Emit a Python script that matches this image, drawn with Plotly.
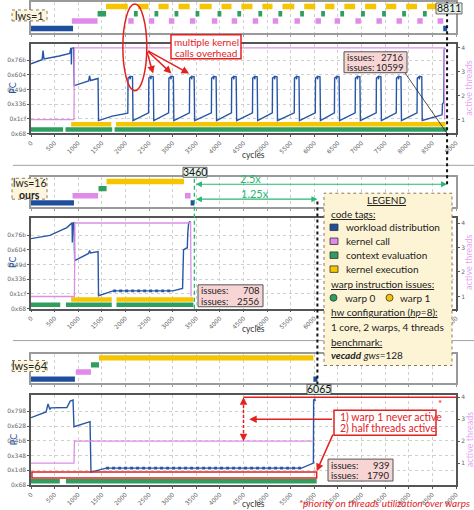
import plotly.graph_objects as go

# ---------------- values ----------------
# code tags, one start/end list per tag (cycles)
# lws=1
wd1_start = [0, 8730]
wd1_end = [890, 8811]
kc1_start = [865, 2060, 2495, 2920, 3365, 3830, 4250, 4695, 5120, 5580, 6025, 6430, 6870, 7315, 7740, 8180, 8610]
kc1_end = [1410, 2175, 2610, 3035, 3480, 3945, 4365, 4810, 5235, 5695, 6140, 6545, 6985, 7430, 7855, 8295, 8730]
ce1_start = [1410, 2180, 2615, 3040, 3485, 3950, 4370, 4815, 5240, 5700, 6145, 6550, 6990, 7435, 7860, 8300]
ce1_end = [1590, 2260, 2695, 3120, 3565, 4030, 4450, 4895, 5320, 5780, 6225, 6630, 7070, 7515, 7940, 8380]
ke1_start = [1590, 2265, 2700, 3125, 3570, 4035, 4455, 4900, 5325, 5785, 6230, 6635, 7075, 7520, 7945, 8385]
ke1_end = [2050, 2490, 2915, 3360, 3825, 4245, 4690, 5115, 5575, 6020, 6425, 6865, 7310, 7735, 8175, 8605]
# lws=16
wd2_start, wd2_end = [0, 3380], [910, 3460]
kc2_start, kc2_end = [880, 3260], [1420, 3380]
ce2_start, ce2_end = [1430], [1600]
ke2_start, ke2_end = [1600], [3240]
# lws=64
wd3_start, wd3_end = [0, 5980], [930, 6065]
kc3_start, kc3_end = [950], [1270]
ce3_start, ce3_end = [1270], [1440]
ke3_start, ke3_end = [1440], [5980]

# warp instruction issues (cycles where the warp issues)
w0_1_start, w0_1_end = [0, 730, 1770], [680, 1720, 8811]
w1_1_start, w1_1_end = [850, 1800], [1700, 8780]
w0_2_start, w0_2_end = [0, 740, 1810], [620, 1710, 3440]
w1_2_start, w1_2_end = [850, 1810], [1710, 3440]
w0_3_start, w0_3_end = [0, 740], [610, 6050]

# program counter traces
pc1_cyc = [0, 220, 235, 255, 275, 600, 820, 840, 852, 855, 860, 905, 915, 1220, 1240, 1260, 1420, 1430, 1720, 2050,
           2055, 2090, 2100, 2105, 2150, 2160, 2490,
           2495, 2530, 2540, 2545, 2590, 2600, 2915,
           2920, 2955, 2965, 2970, 3015, 3025, 3355,
           3360, 3395, 3405, 3410, 3455, 3465, 3820,
           3825, 3860, 3870, 3875, 3920, 3930, 4245,
           4250, 4285, 4295, 4300, 4345, 4355, 4690,
           4695, 4730, 4740, 4745, 4790, 4800, 5110,
           5115, 5150, 5160, 5165, 5210, 5220, 5575,
           5580, 5615, 5625, 5630, 5675, 5685, 6020,
           6025, 6060, 6070, 6075, 6120, 6130, 6425,
           6430, 6465, 6475, 6480, 6525, 6535, 6865,
           6870, 6905, 6915, 6920, 6965, 6975, 7310,
           7315, 7350, 7360, 7365, 7410, 7420, 7735,
           7740, 7775, 7785, 7790, 7835, 7845, 8175,
           8180, 8215, 8225, 8230, 8275, 8285, 8705,
           8715, 8740, 8750, 8770]
pc1_val = [1810, 1900, 1910, 2130, 1930, 2000, 2060, 2180, 2170, 1790, 2190, 2200, 1275, 1390, 1520, 1400, 1450, 420, 530, 600,
           1460, 1490, 1430, 1500, 1490, 420, 610,
           1460, 1490, 1430, 1500, 1490, 420, 610,
           1460, 1490, 1430, 1500, 1490, 420, 610,
           1460, 1490, 1430, 1500, 1490, 420, 610,
           1460, 1490, 1430, 1500, 1490, 420, 610,
           1460, 1490, 1430, 1500, 1490, 420, 610,
           1460, 1490, 1430, 1500, 1490, 420, 610,
           1460, 1490, 1430, 1500, 1490, 420, 610,
           1460, 1490, 1430, 1500, 1490, 420, 610,
           1460, 1490, 1430, 1500, 1490, 420, 610,
           1460, 1490, 1430, 1500, 1490, 420, 610,
           1460, 1490, 1430, 1500, 1490, 420, 610,
           1460, 1490, 1430, 1500, 1490, 420, 610,
           1460, 1490, 1430, 1500, 1490, 420, 610,
           1460, 1490, 1430, 1500, 1490, 420, 560,
           830, 860, 2150, 2200]
pc2_cyc = [0, 400, 760, 840, 870, 875, 885, 910, 925, 1220, 1240, 1260, 1420, 1430, 1740, 3000, 3210, 3230, 3310, 3320, 3340, 3380]
pc2_val = [1810, 1890, 2080, 2180, 2195, 1720, 2190, 2200, 1275, 1450, 1520, 1460, 1495, 420, 540, 540, 600, 1540, 1590, 1950, 2200, 2230]
pc2_busy_cyc, pc2_busy_val = [1740, 3000], [540, 540]
pc3_cyc = [0, 320, 360, 400, 420, 760, 830, 890, 910, 1250, 1270, 1590, 5730, 5980, 5985, 6010, 6020]
pc3_val = [1784, 1930, 2130, 1990, 2030, 2040, 2200, 2225, 1560, 1685, 425, 525, 525, 650, 2230, 2250, 2200]
pc3_busy_cyc, pc3_busy_val = [1590, 5730], [525, 525]

# active threads
thr1_cyc, thr1_val = [0, 910, 920, 8750, 8760], [1, 1, 4, 4, 1]
thr2_cyc, thr2_val = [0, 920, 930, 3380, 3390], [1, 1, 4, 4, 1]
thr3_cyc, thr3_val = [0, 910, 920, 5980], [1, 1, 2, 2]

# tick labels
pc_ticks_a = [0x68, 0x1cf, 0x336, 0x49d, 0x604, 0x76b]
pc_text_a = ["0x68", "0x1cf", "0x336", "0x49d", "0x604", "0x76b"]
pc_ticks_b = [0x68, 0x1d8, 0x348, 0x4b8, 0x628, 0x798]
pc_text_b = ["0x68", "0x1d8", "0x348", "0x4b8", "0x628", "0x798"]
thr_ticks = [1, 2, 3, 4]

end_cycles = [8811, 3460, 6065]
issues = [(2716, 10599), (708, 2556), (939, 1790)]

# ---------------- styling ----------------
BLUE = "#1f4e9e"
PINK = "#e08aea"
GREEN = "#2f9e5f"
YELLOW = "#f6c500"
PCBLUE = "#2856a6"
THR = "#dc8ee8"
RED = "#e3211f"
MINT = "#2bb673"
FONT = "Lato"

W, H = 474, 510
ML, MR, MB = 31, 18, 25
PW, PH = W - ML - MR, H - MB


def fx(px):
    return (px - ML) / PW


def fy(py):
    return (PH - py) / PH


def spans(starts, ends):
    xs = []
    for a, b in zip(starts, ends):
        xs += [a, b, None]
    return xs


fig = go.Figure()


def add_tags(xa, ya, rows):
    for starts, ends, color, lane in rows:
        fig.add_trace(go.Bar(
            x=[b - a for a, b in zip(starts, ends)], base=starts, y=[lane] * len(starts),
            orientation="h", width=0.75, marker=dict(color=color, line_width=0),
            xaxis=xa, yaxis=ya, showlegend=False, hoverinfo="skip"))


add_tags("x", "y", [(wd1_start, wd1_end, BLUE, 0), (kc1_start, kc1_end, PINK, 1),
                    (ce1_start, ce1_end, GREEN, 2), (ke1_start, ke1_end, YELLOW, 3)])
add_tags("x3", "y3", [(wd2_start, wd2_end, BLUE, 0), (kc2_start, kc2_end, PINK, 1),
                      (ce2_start, ce2_end, GREEN, 2), (ke2_start, ke2_end, YELLOW, 3)])
add_tags("x5", "y5", [(wd3_start, wd3_end, BLUE, 0), (kc3_start, kc3_end, PINK, 1),
                      (ce3_start, ce3_end, GREEN, 2), (ke3_start, ke3_end, YELLOW, 3)])

# issue lanes sit just above the bottom of each PC panel
LANE_W0, LANE_W1 = 200, 330


def add_issues(xa, ya, s0, e0, s1, e1):
    for s, e, lane, col in ((s0, e0, LANE_W0, GREEN), (s1, e1, LANE_W1, YELLOW)):
        if not s:
            continue
        xs = spans(s, e)
        fig.add_trace(go.Scatter(x=xs, y=[lane if v is not None else None for v in xs],
                                 mode="lines", line=dict(color=col, width=4.5), xaxis=xa, yaxis=ya,
                                 showlegend=False, hoverinfo="skip"))


add_issues("x2", "y2", w0_1_start, w0_1_end, w1_1_start, w1_1_end)
add_issues("x4", "y4", w0_2_start, w0_2_end, w1_2_start, w1_2_end)
add_issues("x6", "y6", w0_3_start, w0_3_end, [], [])


def add_pc(xa, ya, cyc, val, busy=None):
    fig.add_trace(go.Scatter(x=cyc, y=val, mode="lines", line=dict(color=PCBLUE, width=1.4),
                             xaxis=xa, yaxis=ya, showlegend=False, hoverinfo="skip"))
    if busy:
        fig.add_trace(go.Scatter(x=busy[0], y=busy[1], mode="lines",
                                 line=dict(color=PCBLUE, width=2.6, dash="dot"),
                                 xaxis=xa, yaxis=ya, showlegend=False, hoverinfo="skip"))


add_pc("x2", "y2", pc1_cyc, pc1_val)
add_pc("x4", "y4", pc2_cyc, pc2_val, (pc2_busy_cyc, pc2_busy_val))
add_pc("x6", "y6", pc3_cyc, pc3_val, (pc3_busy_cyc, pc3_busy_val))

for xa, ya, cyc, val in [("x2", "y7", thr1_cyc, thr1_val), ("x4", "y8", thr2_cyc, thr2_val),
                         ("x6", "y9", thr3_cyc, thr3_val)]:
    fig.add_trace(go.Scatter(x=cyc, y=val, mode="lines", line=dict(color=THR, width=1.3),
                             xaxis=xa, yaxis=ya, showlegend=False, hoverinfo="skip"))

# ---------------- axes ----------------
tickfont = dict(family="DejaVu Sans", size=6, color="#666")
xbase = dict(range=[0, 9000], tick0=0, dtick=500, showgrid=True, gridcolor="#cfcfcf", griddash="dot",
             zeroline=False, ticks="outside", ticklen=2, showline=True, mirror=True)
tag_x = dict(xbase, showticklabels=False, linecolor="#9a9a9a", linewidth=2, tickcolor="#9a9a9a")
pc_x = dict(xbase, tickangle=-45, tickfont=tickfont, linecolor="#555", linewidth=1.5, tickcolor="#555")
tag_y = dict(range=[-0.6, 3.6], showticklabels=False, showgrid=False, zeroline=False,
             showline=True, mirror=True, linecolor="#9a9a9a", linewidth=2)
pc_y = dict(showgrid=True, gridcolor="#cfcfcf", griddash="dot", zeroline=False, tickfont=tickfont,
            ticks="outside", ticklen=2, tickcolor="#555", showline=True, mirror=True,
            linecolor="#555", linewidth=1.5)
thr_y = dict(side="right", tickvals=thr_ticks, tickfont=tickfont, ticks="outside", ticklen=3,
             tickcolor="#555", showgrid=False, zeroline=False, showline=False)

rows_px = [(0, 31), (42, 132), (176, 206), (217, 308), (353, 383), (395, 485)]
dom = [[fy(b), fy(t)] for t, b in rows_px]

layout = dict(
    width=W, height=H, margin=dict(l=ML, r=MR, t=0, b=MB),
    paper_bgcolor="white", plot_bgcolor="white", barmode="overlay",
    xaxis=dict(tag_x, anchor="y"), yaxis=dict(tag_y, domain=dom[0], anchor="x"),
    xaxis2=dict(pc_x, anchor="y2"),
    yaxis2=dict(pc_y, domain=dom[1], anchor="x2", range=[104, 2298], tickvals=pc_ticks_a, ticktext=pc_text_a),
    xaxis3=dict(tag_x, anchor="y3"), yaxis3=dict(tag_y, domain=dom[2], anchor="x3"),
    xaxis4=dict(pc_x, anchor="y4"),
    yaxis4=dict(pc_y, domain=dom[3], anchor="x4", range=[104, 2311], tickvals=pc_ticks_a, ticktext=pc_text_a),
    xaxis5=dict(tag_x, anchor="y5"), yaxis5=dict(tag_y, domain=dom[4], anchor="x5"),
    xaxis6=dict(pc_x, anchor="y6"),
    yaxis6=dict(pc_y, domain=dom[5], anchor="x6", range=[104, 2342], tickvals=pc_ticks_b, ticktext=pc_text_b),
    yaxis7=dict(thr_y, overlaying="y2", anchor="x2", range=[0.42, 4.17]),
    yaxis8=dict(thr_y, overlaying="y4", anchor="x4", range=[0.5, 4.2]),
    yaxis9=dict(thr_y, overlaying="y6", anchor="x6", range=[0.0, 4.09]),
)

shapes = []
ann = []


def rect(x0, y0, x1, y1, fill, line, width=1.0, dash="solid"):
    shapes.append(dict(type="rect", xref="paper", yref="paper", x0=fx(x0), x1=fx(x1), y0=fy(y1), y1=fy(y0),
                       fillcolor=fill, line=dict(color=line, width=width, dash=dash), layer="above"))


def circ(x0, y0, x1, y1, fill):
    shapes.append(dict(type="circle", xref="paper", yref="paper", x0=fx(x0), x1=fx(x1), y0=fy(y1), y1=fy(y0),
                       fillcolor=fill, line=dict(color="#333", width=0.8), layer="above"))


def text(px, py, s, size=10, color="#222", xanchor="left", **kw):
    ann.append(dict(x=fx(px), y=fy(py), xref="paper", yref="paper", text=s, showarrow=False,
                    xanchor=xanchor, yanchor="middle", font=dict(family=FONT, size=size, color=color), **kw))


# section separators
for yy in (164, 340):
    shapes.append(dict(type="line", xref="paper", yref="paper", x0=fx(13), x1=fx(474), y0=fy(yy), y1=fy(yy),
                       line=dict(color="#a0a0a0", width=1), layer="below"))

# end-of-run markers
shapes.append(dict(type="line", xref="x2", yref="paper", x0=end_cycles[0], x1=end_cycles[0], y0=fy(183), y1=1,
                   line=dict(color="#111", width=2, dash="3px,3px"), layer="above"))
shapes.append(dict(type="line", xref="x4", yref="paper", x0=end_cycles[1], x1=end_cycles[1], y0=fy(308), y1=fy(176),
                   line=dict(color=MINT, width=1.3, dash="4px,3px"), layer="above"))
shapes.append(dict(type="line", xref="x6", yref="paper", x0=end_cycles[2], x1=end_cycles[2], y0=fy(384), y1=fy(198),
                   line=dict(color="#111", width=2, dash="3px,3px"), layer="above"))
# issues link line (run 1)
shapes.append(dict(type="line", xref="x2", yref="y2", x0=7900, x1=end_cycles[0], y0=1620, y1=104,
                   line=dict(color="#222", width=0.8), layer="above"))

# speed-up arrows
for tip, py, lab, lx in [(end_cycles[0], 183, "2.5x", 4650), (end_cycles[2], 198, "1.25x", 4750)]:
    ann.append(dict(x=tip, y=fy(py), xref="x4", yref="paper", ax=end_cycles[1], ay=0, axref="x4", ayref="pixel",
                    text="", showarrow=True, arrowside="end+start", arrowhead=2, startarrowhead=2,
                    arrowsize=1, startarrowsize=1, arrowwidth=1.2, arrowcolor=MINT, standoff=0, startstandoff=0))
    ann.append(dict(x=lx, y=fy(py - 6), xref="x4", yref="paper", text=lab, showarrow=False,
                    font=dict(family=FONT, size=11, color=MINT)))

# red highlights, run 1
shapes.append(dict(type="circle", xref="x2", yref="paper", x0=1945, x1=2452, y0=fy(89), y1=fy(2),
                   line=dict(color=RED, width=1.5), layer="above"))
for tip in (2586, 2974, 3347):
    ann.append(dict(x=tip, y=1572, xref="x2", yref="y2", ax=2446, ay=2144, axref="x2", ayref="y2",
                    text="", showarrow=True, arrowhead=2, arrowsize=1, arrowwidth=1.5, arrowcolor=RED))
rect(171, 33, 241, 57, "white", RED, 1.5)
text(206, 40, "multiple kernel", 10, RED, "center")
text(206, 51, "calls overhead", 10, RED, "center")

# red highlights, run 3
shapes.append(dict(type="line", xref="x6", yref="y9", x0=4500, x1=9000, y0=4, y1=4,
                   line=dict(color=RED, width=1.5), layer="above"))
shapes.append(dict(type="line", xref="x6", yref="y9", x0=4500, x1=4500, y0=2.15, y1=3.85,
                   line=dict(color=RED, width=1.5, dash="3px,2px"), layer="above"))
shapes.append(dict(type="rect", xref="x6", yref="y6", x0=20, x1=6050, y0=278, y1=427,
                   line=dict(color=RED, width=1.5), layer="above"))
for tip, tail in ((4, 3.7), (2, 2.3)):
    ann.append(dict(x=4500, y=tip, xref="x6", yref="y9", ax=4500, ay=tail, axref="x6", ayref="y9",
                    text="", showarrow=True, arrowhead=2, arrowsize=1, arrowwidth=1.5, arrowcolor=RED))
ann.append(dict(x=4620, y=3, xref="x6", yref="y9", ax=6406, ay=3, axref="x6", ayref="y9",
                text="", showarrow=True, arrowhead=2, arrowsize=1, arrowwidth=1.5, arrowcolor=RED))
ann.append(dict(x=6050, y=450, xref="x6", yref="y6", ax=6406, ay=1400, axref="x6", ayref="y6",
                text="", showarrow=True, arrowhead=2, arrowsize=1, arrowwidth=1.5, arrowcolor=RED))
rect(334, 410, 436, 435, "white", RED, 1.5)
text(338, 416.5, "1) warp 1 never active", 10.5, RED)
text(338, 428, "2) half threads active", 10.5, RED)
text(440, 403, "*", 10, RED, "center")
text(472, 503, "<i>*priority on threads utilization over warps</i>", 10, RED, "right")

# issue count boxes
for (x0, y0, x1, y1), (a, b) in zip([(344, 50, 407, 71), (198, 284, 263, 306), (328, 459, 393, 481)], issues):
    rect(x0, y0, x1, y1, "#f7d5d5", "#555", 1)
    ym = (y0 + y1) / 2
    text(x0 + 1, ym - 5, "issues:", 9.5, "#222")
    text(x0 + 1, ym + 5.5, "issues:", 9.5, "#222")
    text(x1 - 1, ym - 5, str(a), 9.5, "#222", "right")
    text(x1 - 1, ym + 5.5, str(b), 9.5, "#222", "right")

# run labels
for (y0, y1) in [(8, 19), (177, 198), (360, 371)]:
    rect(12, y0, 47, y1, "#fdf5dc", "#8a7a5a", 1, "dot")
text(29.5, 13.5, "lws=1", 11, "#222", "center")
text(29.5, 181.5, "lws=16", 10.5, "#222", "center")
text(29.5, 193.5, "<b>ours</b>", 10.5, "#222", "center")
text(29.5, 365.5, "lws=64", 11, "#222", "center")

# end cycle labels
for cyc, (x0, y0, x1, y1) in zip(end_cycles, [(436, 1, 462, 12), (183, 166, 207, 176), (307, 384, 331, 394)]):
    rect(x0, y0, x1, y1, "#e6f2ea", "#444", 0.8)
    text((x0 + x1) / 2, (y0 + y1) / 2, str(cyc), 10.5, "#111", "center")

# axis titles
for py in (154, 328, 504):
    text(253, py, "cycles", 8.5, "#333", "center")
for py in (87, 262, 440):
    text(13, py, "PC", 9, PCBLUE, "center", textangle=-90)
    text(469, py, "active threads", 9, "#e8a6f2", "center", textangle=-90)

# legend
rect(324, 192, 452, 365, "#fdf4d6", "#8a7a5a", 1, "dot")
text(386, 199, "<u>LEGEND</u>", 10, "#222", "center")
text(329, 213, "<u>code tags:</u>", 10)
for py, col, lab in [(226, BLUE, "workload distribution"), (240, PINK, "kernel call"),
                     (254, GREEN, "context evaluation"), (268, YELLOW, "kernel execution")]:
    rect(330, py - 3, 338, py + 3.5, col, "#333", 0.8)
    text(344, py, lab, 10)
text(329, 283, "<u>warp instruction issues:</u>", 10)
circ(330, 293.5, 337, 300.5, GREEN)
text(343, 297, "warp 0", 10)
circ(386, 293.5, 393, 300.5, YELLOW)
text(398, 297, "warp 1", 10)
text(329, 311, "<u>hw configuration (<i>hp</i>=8):</u>", 10)
text(329, 326, "1 core, 2 warps, 4 threads", 10)
text(329, 341, "<u>benchmark:</u>", 10)
text(329, 354, "<b><i>vecadd</i></b> <i>gws</i>=128", 10)

layout["shapes"] = shapes
layout["annotations"] = ann
fig.update_layout(**layout)
# the page's default body margin would shift the 474x510 figure off the window
fig.write_html("out.html", config={"displayModeBar": False},
               post_script="document.body.style.margin='0';")
